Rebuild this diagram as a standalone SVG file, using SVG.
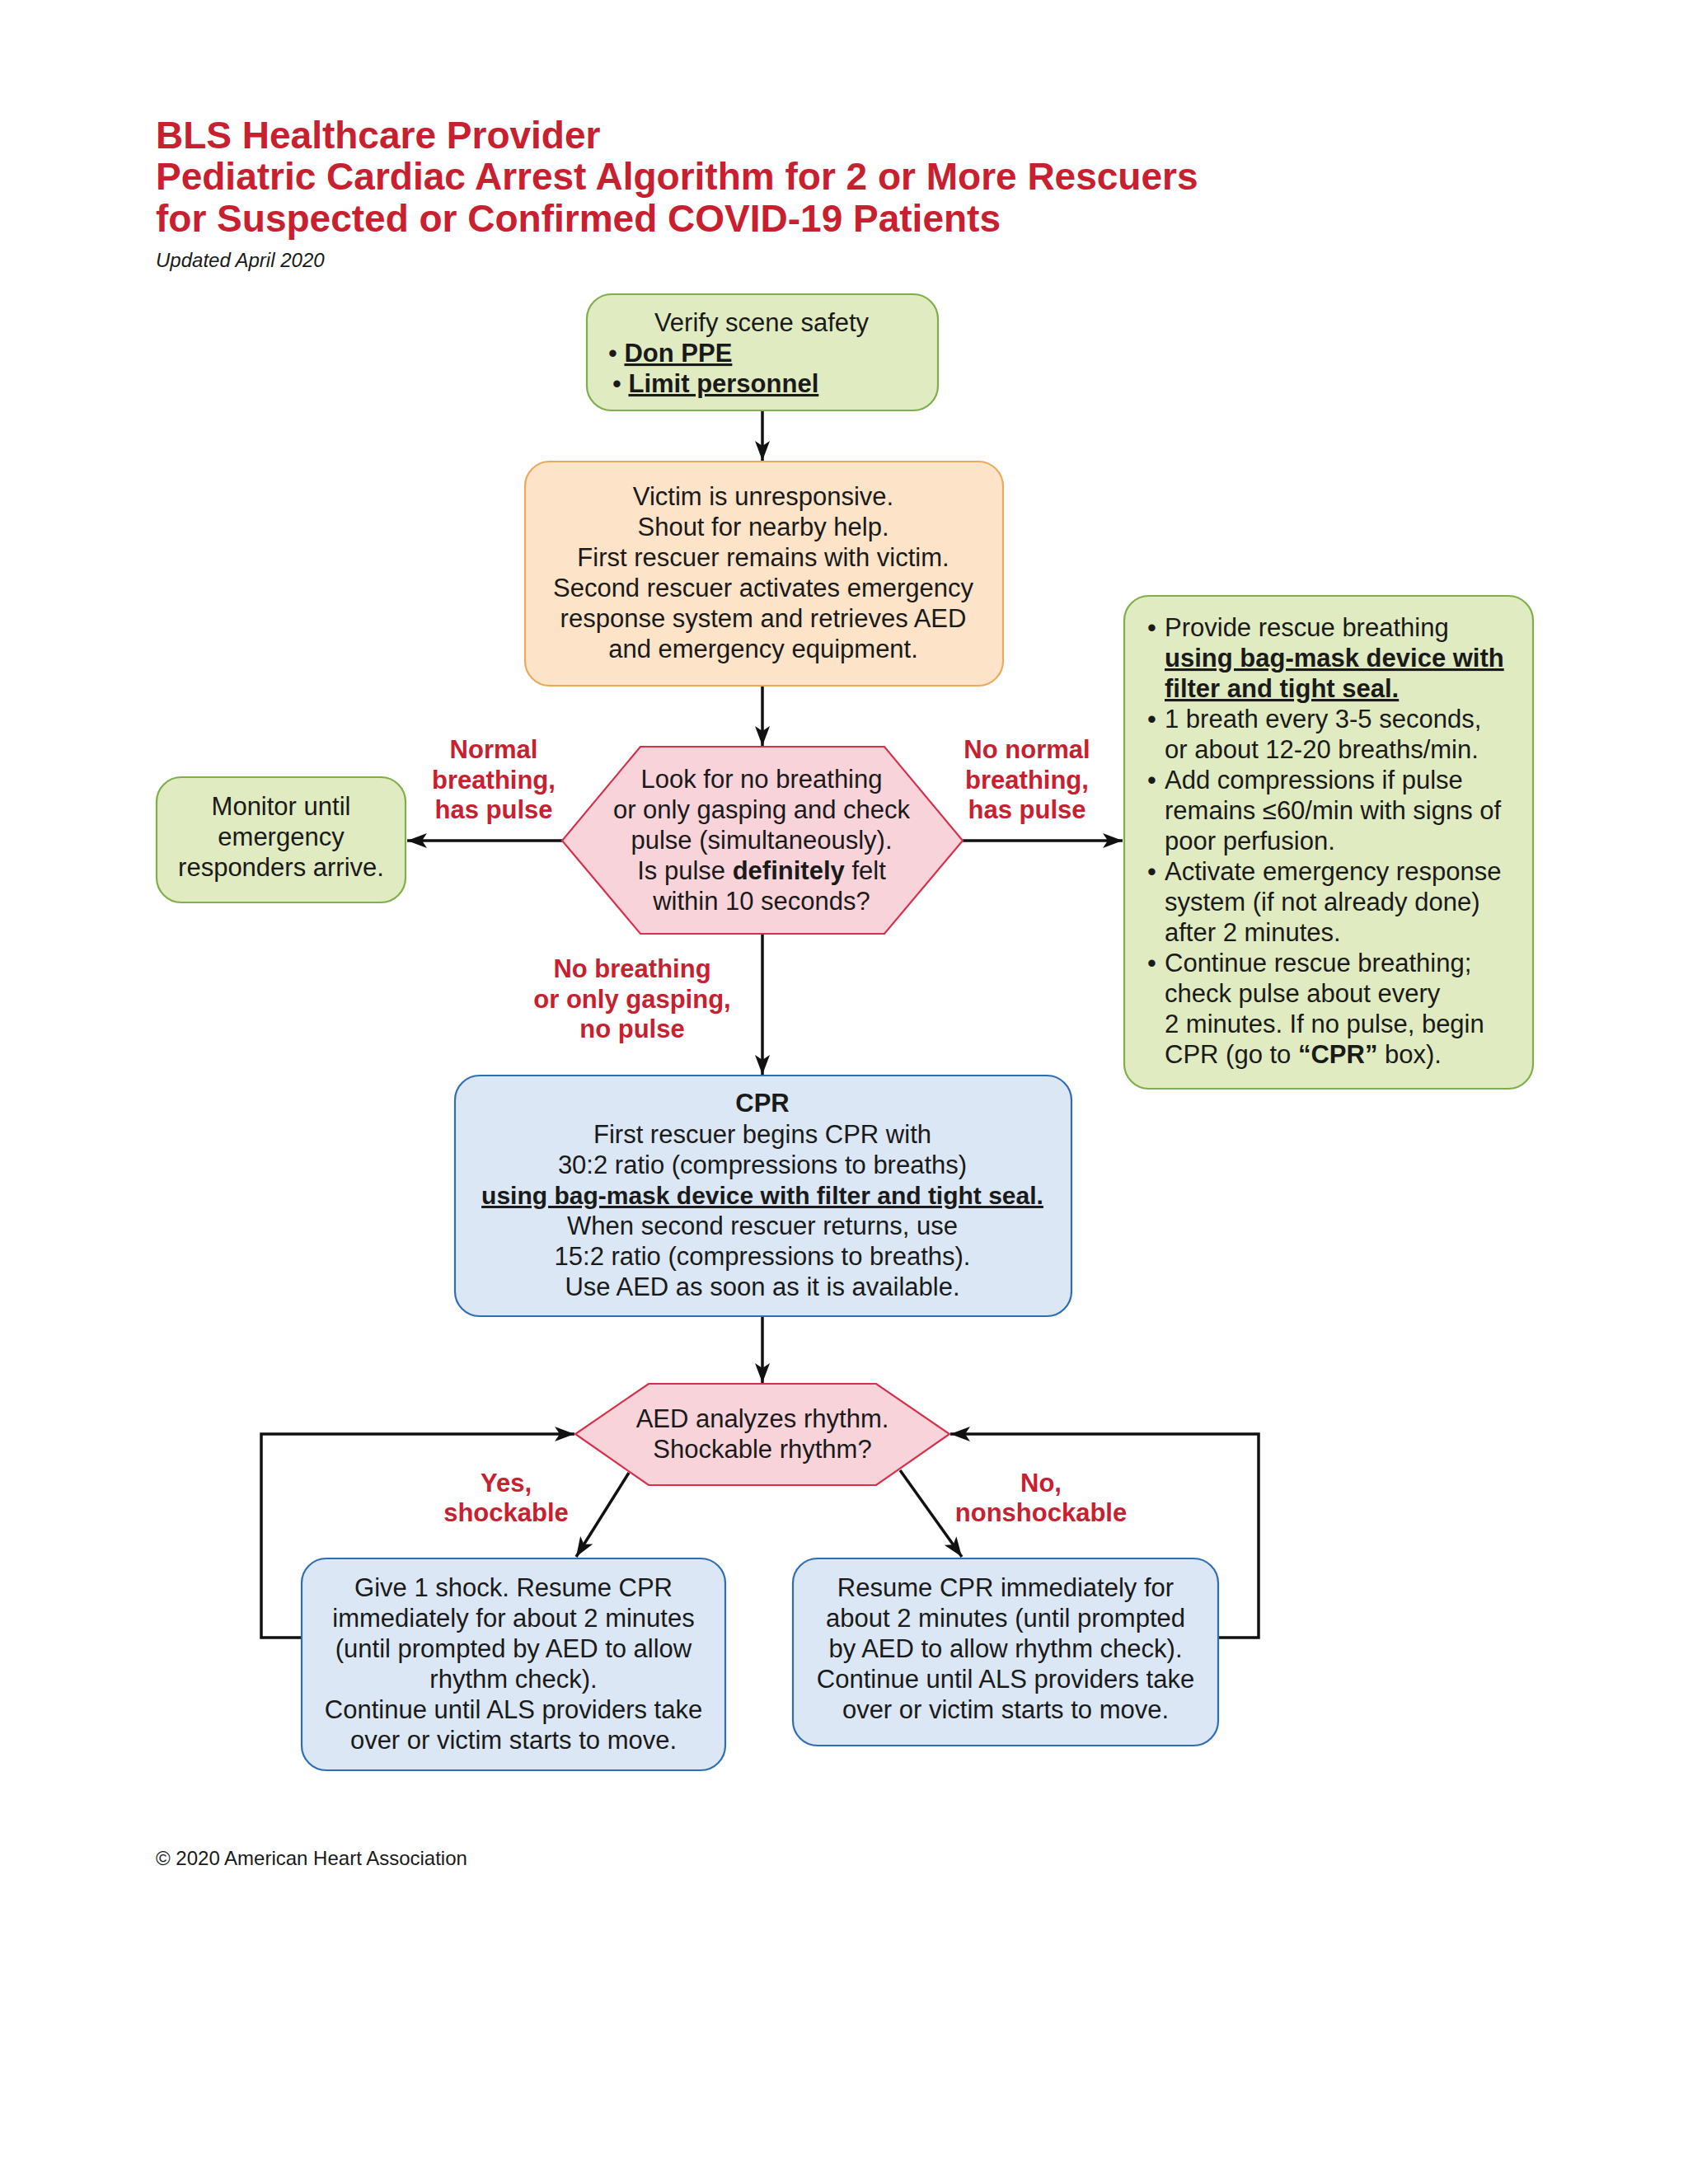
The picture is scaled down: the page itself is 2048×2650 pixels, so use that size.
<svg xmlns="http://www.w3.org/2000/svg" width="2048" height="2650" viewBox="0 0 2048 2650">
<style>
text{font-family:"Liberation Sans",Arial,sans-serif;fill:#1a1a1a}
.t{font-size:31px}
.c{text-anchor:middle}
.b{font-weight:bold}
.u{text-decoration:underline}
.title{font-size:46px;font-weight:bold;fill:#c8202e}
.lbl{font-size:31px;font-weight:bold;fill:#c8202e;text-anchor:middle}
.green{fill:#e1ebc1;stroke:#7fae4a;stroke-width:2.2}
.orange{fill:#fde3c8;stroke:#eda95b;stroke-width:2.2}
.pink{fill:#f8d3d9;stroke:#d6304a;stroke-width:2.2}
.blue{fill:#dbe7f4;stroke:#2e6eb5;stroke-width:2.2}
.conn{fill:none;stroke:#111;stroke-width:3.5}
</style>
<defs>
<marker id="ah" markerUnits="userSpaceOnUse" markerWidth="26" markerHeight="20" refX="24" refY="9" orient="auto">
<path d="M0,0 L24,9 L0,18 L6,9 z" fill="#111"/>
</marker>
</defs>
<rect width="2048" height="2650" fill="#ffffff"/>

<g id="title">
<text class="title" x="189" y="180">BLS Healthcare Provider</text>
<text class="title" x="189" y="230">Pediatric Cardiac Arrest Algorithm for 2 or More Rescuers</text>
<text class="title" x="189" y="281">for Suspected or Confirmed COVID-19 Patients</text>
<text x="189" y="324" style="font-size:24px;font-style:italic">Updated April 2020</text>
</g>

<g id="connectors">
<line class="conn" x1="925" y1="499" x2="925" y2="559" marker-end="url(#ah)"/>
<line class="conn" x1="925" y1="832" x2="925" y2="905" marker-end="url(#ah)"/>
<line class="conn" x1="682" y1="1020" x2="494" y2="1020" marker-end="url(#ah)"/>
<line class="conn" x1="1168" y1="1020" x2="1362" y2="1020" marker-end="url(#ah)"/>
<line class="conn" x1="925" y1="1133" x2="925" y2="1304" marker-end="url(#ah)"/>
<line class="conn" x1="925" y1="1598" x2="925" y2="1678" marker-end="url(#ah)"/>
<line class="conn" x1="763" y1="1787" x2="699" y2="1889" marker-end="url(#ah)"/>
<line class="conn" x1="1092" y1="1784" x2="1167" y2="1889" marker-end="url(#ah)"/>
<polyline class="conn" points="365,1987 317,1987 317,1740 697,1740" marker-end="url(#ah)"/>
<polyline class="conn" points="1478,1987 1527,1987 1527,1740 1153,1740" marker-end="url(#ah)"/>
</g>

<g id="labels">
<text class="lbl" x="599" y="920">Normal</text>
<text class="lbl" x="599" y="957">breathing,</text>
<text class="lbl" x="599" y="993">has pulse</text>
<text class="lbl" x="1246" y="920">No normal</text>
<text class="lbl" x="1246" y="957">breathing,</text>
<text class="lbl" x="1246" y="993">has pulse</text>
<text class="lbl" x="767" y="1186">No breathing</text>
<text class="lbl" x="767" y="1223">or only gasping,</text>
<text class="lbl" x="767" y="1259">no pulse</text>
<text class="lbl" x="614" y="1810">Yes,</text>
<text class="lbl" x="614" y="1846">shockable</text>
<text class="lbl" x="1263" y="1810">No,</text>
<text class="lbl" x="1263" y="1846">nonshockable</text>
</g>

<g id="verify">
<rect class="green" x="712" y="357" width="426" height="141" rx="30"/>
<text class="t c" x="924" y="402">Verify scene safety</text>
<text class="t" x="738" y="439">• <tspan class="b u">Don PPE</tspan></text>
<text class="t" x="743" y="476">• <tspan class="b u">Limit personnel</tspan></text>
</g>

<g id="unresponsive">
<rect class="orange" x="637" y="560" width="580" height="272" rx="30"/>
<text class="t c" x="926" y="613">Victim is unresponsive.</text>
<text class="t c" x="926" y="650">Shout for nearby help.</text>
<text class="t c" x="926" y="687">First rescuer remains with victim.</text>
<text class="t c" x="926" y="724">Second rescuer activates emergency</text>
<text class="t c" x="926" y="761">response system and retrieves AED</text>
<text class="t c" x="926" y="798">and emergency equipment.</text>
</g>

<g id="check">
<polygon class="pink" points="777,906 1073,906 1168,1020 1073,1133 777,1133 682,1020"/>
<text class="t c" x="924" y="956">Look for no breathing</text>
<text class="t c" x="924" y="993">or only gasping and check</text>
<text class="t c" x="924" y="1030">pulse (simultaneously).</text>
<text class="t c" x="924" y="1067">Is pulse <tspan class="b">definitely</tspan> felt</text>
<text class="t c" x="924" y="1104">within 10 seconds?</text>
</g>

<g id="monitor">
<rect class="green" x="190" y="943" width="302" height="152" rx="30"/>
<text class="t c" x="341" y="989">Monitor until</text>
<text class="t c" x="341" y="1026">emergency</text>
<text class="t c" x="341" y="1063">responders arrive.</text>
</g>

<g id="rescue-breathing">
<rect class="green" x="1364" y="723" width="496" height="598" rx="30"/>
<text class="t" x="1392" y="772">•</text>
<text class="t" x="1413" y="772">Provide rescue breathing</text>
<text class="t b u" x="1413" y="809">using bag-mask device with</text>
<text class="t b u" x="1413" y="846">filter and tight seal.</text>
<text class="t" x="1392" y="883">•</text>
<text class="t" x="1413" y="883">1 breath every 3-5 seconds,</text>
<text class="t" x="1413" y="920">or about 12-20 breaths/min.</text>
<text class="t" x="1392" y="957">•</text>
<text class="t" x="1413" y="957">Add compressions if pulse</text>
<text class="t" x="1413" y="994">remains ≤60/min with signs of</text>
<text class="t" x="1413" y="1031">poor perfusion.</text>
<text class="t" x="1392" y="1068">•</text>
<text class="t" x="1413" y="1068">Activate emergency response</text>
<text class="t" x="1413" y="1105">system (if not already done)</text>
<text class="t" x="1413" y="1142">after 2 minutes.</text>
<text class="t" x="1392" y="1179">•</text>
<text class="t" x="1413" y="1179">Continue rescue breathing;</text>
<text class="t" x="1413" y="1216">check pulse about every</text>
<text class="t" x="1413" y="1253">2 minutes. If no pulse, begin</text>
<text class="t" x="1413" y="1290">CPR (go to <tspan class="b">“CPR”</tspan> box).</text>
</g>

<g id="cpr">
<rect class="blue" x="552" y="1305" width="748" height="292" rx="30"/>
<text class="t c b" x="925" y="1349">CPR</text>
<text class="t c" x="925" y="1387">First rescuer begins CPR with</text>
<text class="t c" x="925" y="1424">30:2 ratio (compressions to breaths)</text>
<text class="t c b u" x="925" y="1461" style="font-size:30px">using bag-mask device with filter and tight seal.</text>
<text class="t c" x="925" y="1498">When second rescuer returns, use</text>
<text class="t c" x="925" y="1535">15:2 ratio (compressions to breaths).</text>
<text class="t c" x="925" y="1572">Use AED as soon as it is available.</text>
</g>

<g id="aed">
<polygon class="pink" points="787,1679 1063,1679 1152,1740 1063,1802 787,1802 698,1740"/>
<text class="t c" x="925" y="1732">AED analyzes rhythm.</text>
<text class="t c" x="925" y="1769">Shockable rhythm?</text>
</g>

<g id="shock">
<rect class="blue" x="366" y="1891" width="514" height="257" rx="30"/>
<text class="t c" x="623" y="1937">Give 1 shock. Resume CPR</text>
<text class="t c" x="623" y="1974">immediately for about 2 minutes</text>
<text class="t c" x="623" y="2011">(until prompted by AED to allow</text>
<text class="t c" x="623" y="2048">rhythm check).</text>
<text class="t c" x="623" y="2085">Continue until ALS providers take</text>
<text class="t c" x="623" y="2122">over or victim starts to move.</text>
</g>

<g id="noshock">
<rect class="blue" x="962" y="1891" width="516" height="227" rx="30"/>
<text class="t c" x="1220" y="1937">Resume CPR immediately for</text>
<text class="t c" x="1220" y="1974">about 2 minutes (until prompted</text>
<text class="t c" x="1220" y="2011">by AED to allow rhythm check).</text>
<text class="t c" x="1220" y="2048">Continue until ALS providers take</text>
<text class="t c" x="1220" y="2085">over or victim starts to move.</text>
</g>

<g id="footer">
<text x="189" y="2263" style="font-size:24px">© 2020 American Heart Association</text>
</g>
</svg>
